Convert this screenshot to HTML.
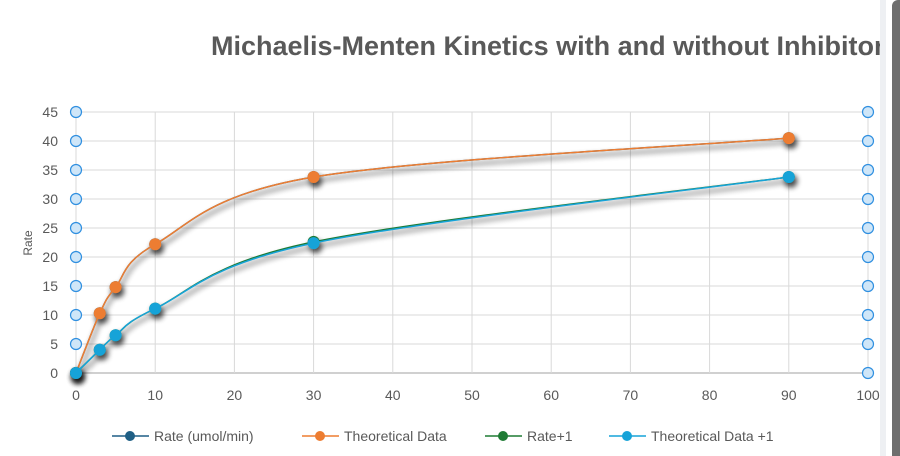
<!DOCTYPE html>
<html><head><meta charset="utf-8"><style>
body{margin:0;width:900px;height:456px;overflow:hidden;background:#fff;font-family:"Liberation Sans",sans-serif}
#chart{position:absolute;left:0;top:0;width:880px;height:456px;overflow:hidden}
svg text{font-family:"Liberation Sans",sans-serif}
</style></head><body>
<div id="chart">
<svg id="svg" width="880" height="456">
<defs><filter id="sh" x="-20%" y="-20%" width="140%" height="160%"><feGaussianBlur in="SourceAlpha" stdDeviation="3"/><feOffset dx="2" dy="4"/><feComponentTransfer><feFuncA type="linear" slope="0.5"/></feComponentTransfer><feMerge><feMergeNode/><feMergeNode in="SourceGraphic"/></feMerge></filter></defs>
<text x="211" y="55" font-size="27" font-weight="bold" fill="#595959">Michaelis-Menten Kinetics with and without Inhibitor</text>
<text transform="translate(32,243) rotate(-90)" text-anchor="middle" font-size="12" fill="#595959">Rate</text>
<g id="grid"></g><g id="handles"></g><g id="series"></g>
</svg></div>
<div style="position:absolute;left:880px;top:0;width:6px;height:456px;background:#eef0f3"></div>
<div style="position:absolute;left:892px;top:0;width:8px;height:456px;background:#6e6e6e;border-radius:6px 0 0 0"></div>
<script>
const xTicks=[0,10,20,30,40,50,60,70,80,90,100];
const yTicks=[0,5,10,15,20,25,30,35,40,45];
const xValues=[0,3,5,10,30,90];
const rate=[0,10.3,14.8,22.2,33.8,40.5];
const theoretical=[0,10.3,14.8,22.2,33.8,40.5];
const ratePlus1=[0,4,6.5,11.1,22.6,33.8];
const theoreticalPlus1=[0,4,6.5,11.1,22.4,33.8];
const seriesNames=["Rate (umol/min)","Theoretical Data","Rate+1","Theoretical Data +1"];
const NS="http://www.w3.org/2000/svg";
const X=v=>76+v*7.92, Y=v=>373-v*5.8;
function mk(t,a,p){const e=document.createElementNS(NS,t);for(const k in a)e.setAttribute(k,a[k]);p.appendChild(e);return e;}
const grid=document.getElementById('grid'),ser=document.getElementById('series'),hd=document.getElementById('handles');
yTicks.forEach(v=>{
 const l=mk('line',{x1:76,x2:868,y1:Y(v),y2:Y(v),stroke:v===0?'#d0d0d0':'#d9d9d9','stroke-width':v===0?2:1},grid);
 
 
 const t=mk('text',{x:58,y:Y(v)+5,'text-anchor':'end','font-size':14,fill:'#595959'},grid);t.textContent=v;
 
 
});
xTicks.forEach(v=>{
 const l=mk('line',{x1:X(v),x2:X(v),y1:Y(45),y2:Y(0),stroke:'#d9d9d9'},grid);
 
 
 const t=mk('text',{x:X(v),y:400,'text-anchor':'middle','font-size':14,fill:'#595959'},grid);t.textContent=v;
 
 
});
function path(ys){
 const p=xValues.map((x,i)=>[X(x),Y(ys[i])]);let d='M'+p[0];
 for(let i=0;i<p.length-1;i++){const p0=p[i-1]||p[i],p1=p[i],p2=p[i+1],p3=p[i+2]||p2;
  const c1=[p1[0]+(p2[0]-p0[0])/6,p1[1]+(p2[1]-p0[1])/6],c2=[p2[0]-(p3[0]-p1[0])/6,p2[1]-(p3[1]-p1[1])/6];
  d+=' C'+c1+' '+c2+' '+p2;}
 return d;}
const defs=[[rate,'#1f5f85','rate-series'],[theoretical,'#ed7d31','theoretical-series'],[ratePlus1,'#1e7b34','rate-plus1-series'],[theoreticalPlus1,'#17a3d8','theoretical-plus1-series']];
defs.forEach(([ys,c,n])=>{
 const g=mk('g',{filter:'url(#sh)'},ser);
 
 
 mk('path',{d:path(ys),fill:'none',stroke:c,'stroke-width':1.5},g);
 xValues.forEach((x,i)=>{const m=mk('circle',{cx:X(x),cy:Y(ys[i]),r:6,fill:c},g);
  
  });
});
yTicks.forEach(v=>[76,868].forEach(x=>{const c=mk('circle',{cx:x,cy:Y(v),r:5.5,fill:'#cfe6f8',stroke:'#2f8fe0','stroke-width':1.2},hd);
 
 }));
const lx=[112,302,485,609];
seriesNames.forEach((n,i)=>{
 const g=mk('g',{},document.getElementById('svg'));
 
 
 mk('line',{x1:lx[i],x2:lx[i]+37,y1:436,y2:436,stroke:defs[i][1],'stroke-width':1.5},g);
 mk('circle',{cx:lx[i]+18,cy:436,r:5,fill:defs[i][1]},g);
 const t=mk('text',{x:lx[i]+42,y:441,'font-size':14,fill:'#595959'},g);t.textContent=n;
});
</script>
</body></html>
